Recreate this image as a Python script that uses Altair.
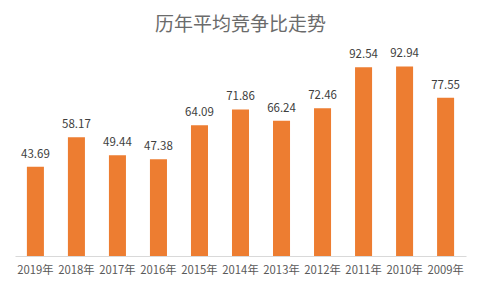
import altair as alt
import pandas as pd

years = ["2019年", "2018年", "2017年", "2016年", "2015年", "2014年", "2013年", "2012年", "2011年", "2010年", "2009年"]
values = [43.69, 58.17, 49.44, 47.38, 64.09, 71.86, 66.24, 72.46, 92.54, 92.94, 77.55]

df = pd.DataFrame({"year": years, "value": values})

font = "Noto Sans CJK SC"

x = alt.X("year:N", sort=years, title=None,
          scale=alt.Scale(paddingInner=0.585, paddingOuter=0.29),
          axis=alt.Axis(labelAngle=0, ticks=False, domainColor="#d9d9d9",
                        labelColor="#595959", labelFont=font, labelFontSize=11.3,
                        labelPadding=8))
y = alt.Y("value:Q", title=None, scale=alt.Scale(domain=[0, 100]), axis=None)

bars = alt.Chart(df).mark_bar(color="#ED7D31").encode(x=x, y=y)
labels = alt.Chart(df).mark_text(baseline="bottom", dy=-7, font=font, fontSize=11.5,
                                 color="#404040").encode(
    x=alt.X("year:N", sort=years), y="value:Q", text=alt.Text("value:Q", format=".2f"))

chart = (bars + labels).properties(
    width=451, height=204,
    autosize=alt.AutoSizeParams(type="none"),
    padding={"left": 15, "top": 52, "right": 15, "bottom": 33},
    title=alt.TitleParams("历年平均竞争比走势", font=font, fontSize=19, fontWeight="normal",
                          color="#6b6b6b", anchor="middle", offset=13),
    background="white",
).configure_view(stroke=None)

chart.save("out.html", embed_options={"renderer": "svg", "actions": False})
